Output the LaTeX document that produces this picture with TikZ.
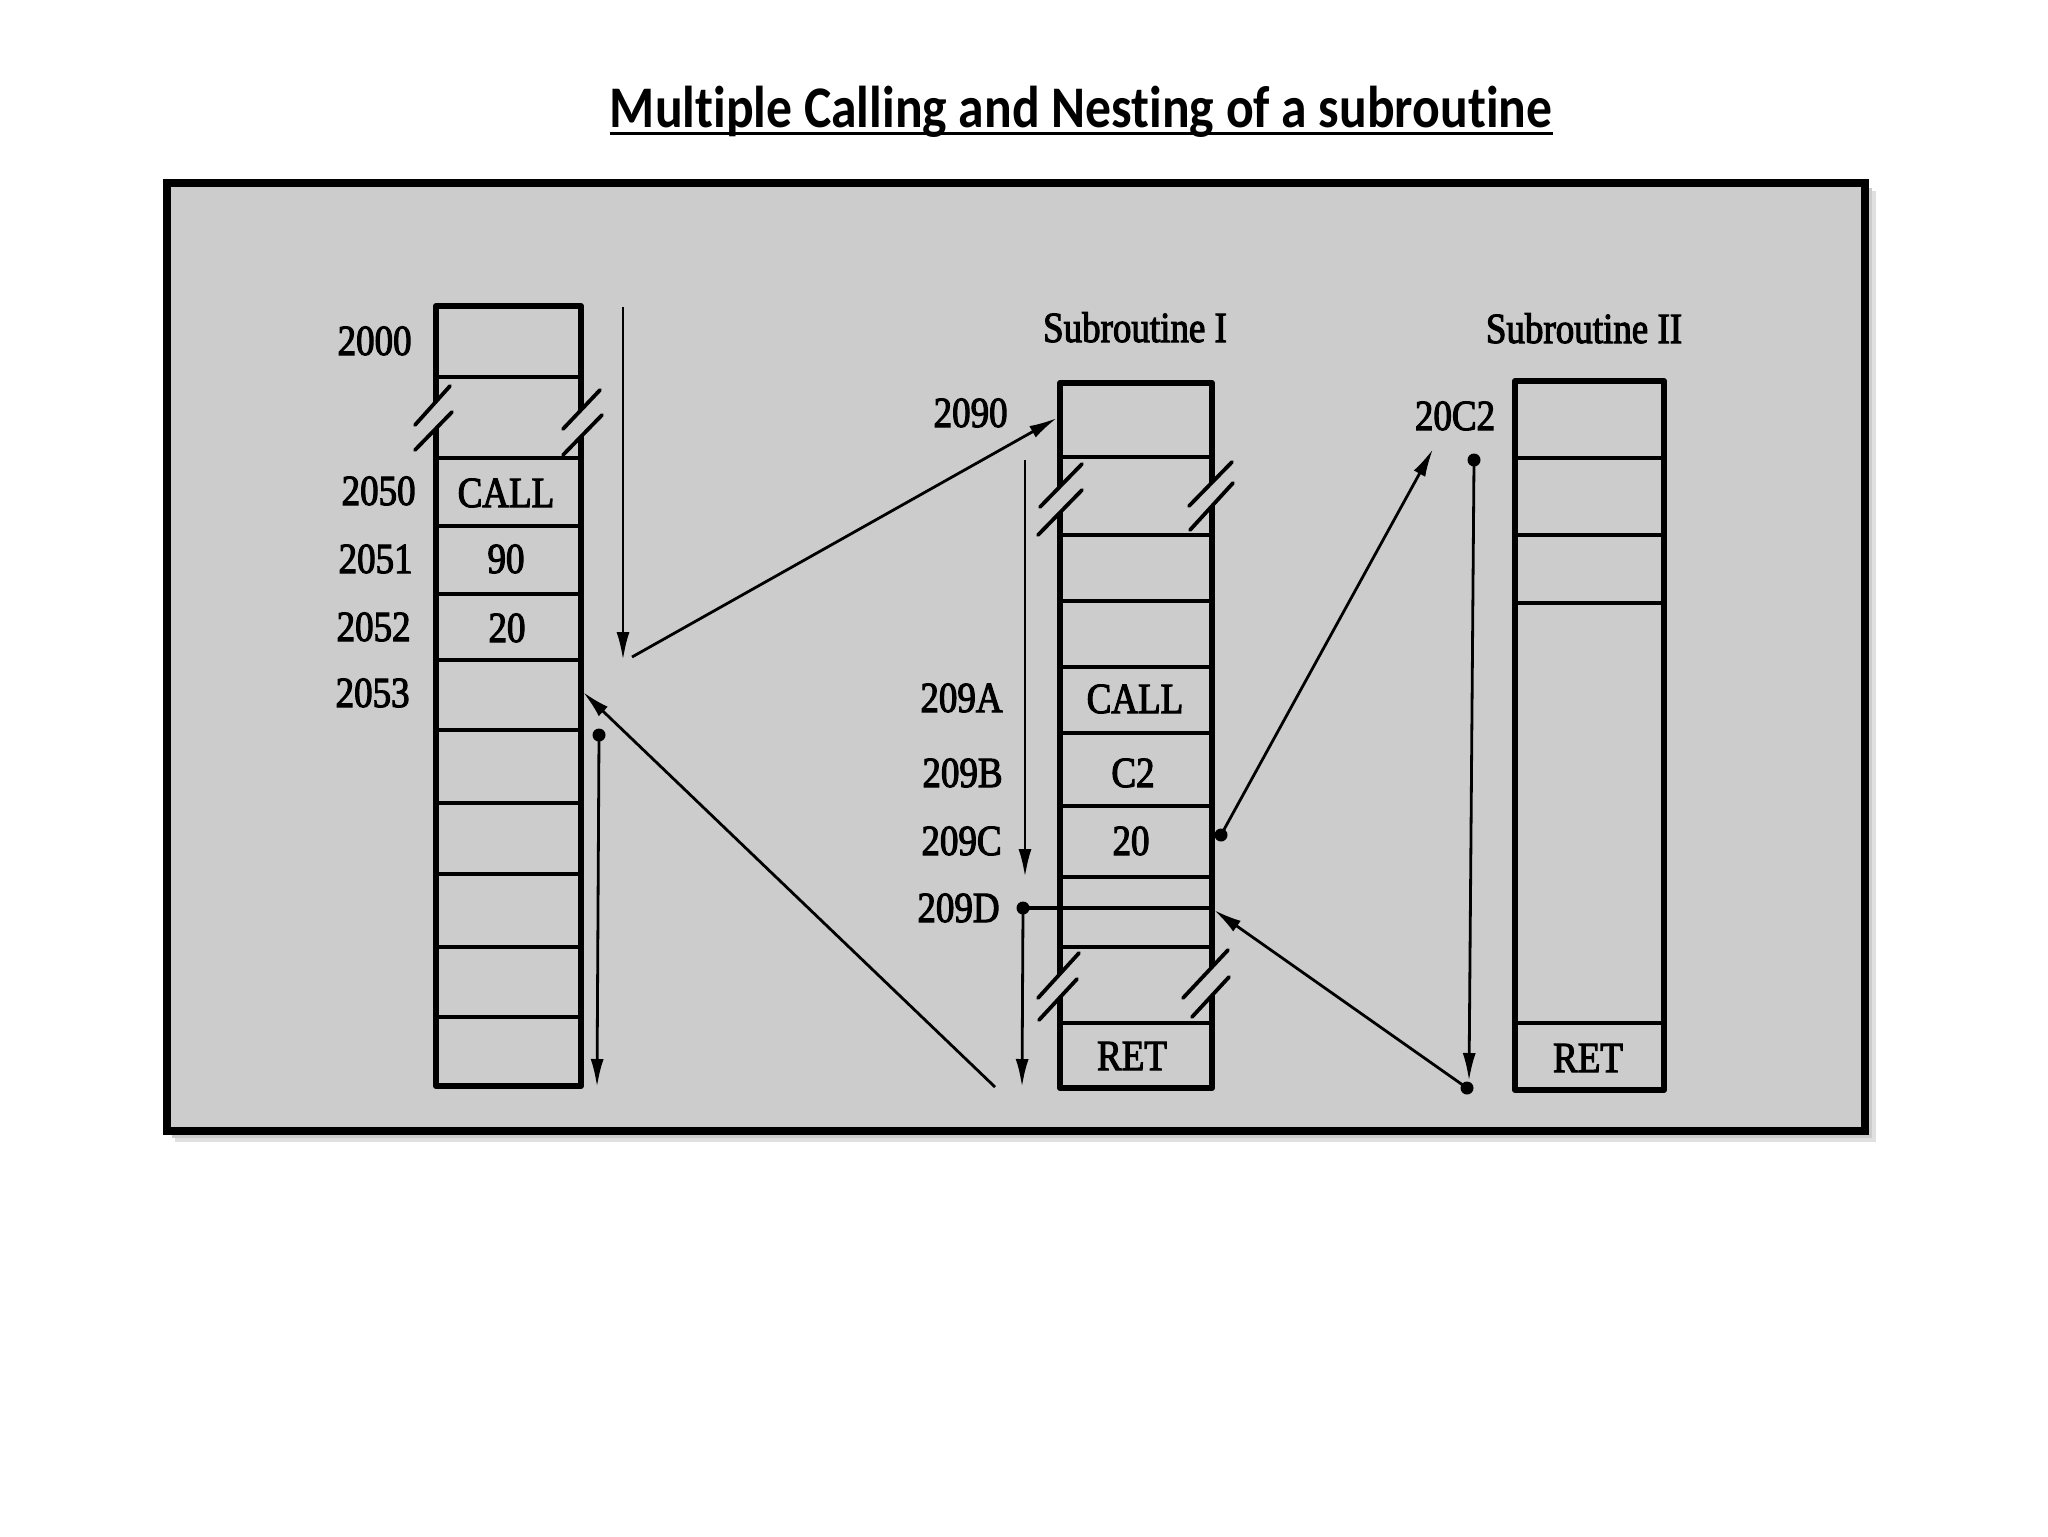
\documentclass[tikz,border=0pt]{standalone}
\usepackage{fontspec}
\usetikzlibrary{arrows.meta,calc}
\newfontfamily\tms{Liberation Serif}[FakeStretch=0.86,FakeBold=2.5]
\newfontfamily\ttl{Carlito}[FakeStretch=0.875,RawFeature=-liga]
\definecolor{panel}{RGB}{204,204,204}
\tikzset{
  boxline/.style={line width=3pt, line join=round},
  cellline/.style={line width=1.7pt},
  flow/.style={line width=1.4pt, -{Latex[length=14pt,width=6.5pt]}},
  lab/.style={font=\tms\fontsize{21.5}{24}\selectfont, inner sep=0pt},
  brkline/.style={line width=1.9pt, line cap=round},
  dotnode/.style={circle, fill=black, inner sep=0pt, minimum size=6.5pt},
}
\newcommand{\brkmark}[4]{%
  \fill[panel] ($(#1)!0.08!(#2)$) -- ($(#2)!0.08!(#1)$) -- ($(#4)!0.08!(#3)$) -- ($(#3)!0.08!(#4)$) -- cycle;
  \draw[brkline] (#1) -- (#2);
  \draw[brkline] (#3) -- (#4);
}
\begin{document}
\begin{tikzpicture}[x=0.5pt,y=-0.5pt]
\useasboundingbox (0,0) rectangle (2048,1536);
\fill[white] (0,0) rectangle (2048,1536);
% title
\node[inner sep=0pt, anchor=base, font=\ttl\bfseries\fontsize{29.5}{32}\selectfont] (title) at (1081,127) {Multiple Calling and Nesting of a subroutine};
\draw[line width=1.6pt] ([yshift=-3.2pt]title.base west) -- ([yshift=-3.2pt]title.base east);
% panel with shadow
\fill[black!12] (175,191) rectangle (1876,1142);
\fill[black!20] (172,188) rectangle (1872,1138);
\fill[panel] (167,183) rectangle (1864.5,1130.5);
\draw[line width=4pt] (167,183) rectangle (1864.5,1130.5);

% ---------- main program column ----------
\draw[boxline] (436,306) rectangle (581,1086);
\foreach \y in {377,458,526,594,660,730,803,874,947,1017}
  \draw[cellline] (436,\y) -- (581,\y);
\coordinate (bA1) at (415,425); \coordinate (bA2) at (450,386);
\coordinate (bB1) at (415,450); \coordinate (bB2) at (452,412);
\brkmark{bA1}{bA2}{bB1}{bB2}
\coordinate (bC1) at (563,429); \coordinate (bC2) at (600,390);
\coordinate (bD1) at (563,455); \coordinate (bD2) at (602,415);
\brkmark{bC1}{bC2}{bD1}{bD2}

\node[lab, anchor=base east] (a2000) at (412,355) {2000};
\node[lab, anchor=base east] (a2050) at (416,505) {2050};
\node[lab, anchor=base east] (a2051) at (413,573) {2051};
\node[lab, anchor=base east] (a2052) at (411,641) {2052};
\node[lab, anchor=base east] (a2053) at (410,707) {2053};
\node[lab, anchor=base] (mcall) at (506,507) {CALL};
\node[lab, anchor=base] (m90) at (506,573) {90};
\node[lab, anchor=base] (m20) at (507,642) {20};

% ---------- subroutine I ----------
\node[lab, anchor=base] (s1title) at (1135,342) {Subroutine I};
\draw[boxline] (1060,383) rectangle (1212,1088);
\foreach \y in {457,535,601,667,733,806,877,947,1023}
  \draw[cellline] (1060,\y) -- (1212,\y);
\coordinate (cA1) at (1040,507); \coordinate (cA2) at (1082,464);
\coordinate (cB1) at (1038,535); \coordinate (cB2) at (1082,490);
\brkmark{cA1}{cA2}{cB1}{cB2}
\coordinate (cC1) at (1189,506); \coordinate (cC2) at (1232,462);
\coordinate (cD1) at (1190,530); \coordinate (cD2) at (1233,483);
\brkmark{cC1}{cC2}{cD1}{cD2}
\coordinate (dA1) at (1038,998); \coordinate (dA2) at (1079,953);
\coordinate (dB1) at (1039,1020); \coordinate (dB2) at (1077,979);
\brkmark{dA1}{dA2}{dB1}{dB2}
\coordinate (dC1) at (1183,998); \coordinate (dC2) at (1228,950);
\coordinate (dD1) at (1192,1017); \coordinate (dD2) at (1229,977);
\brkmark{dC1}{dC2}{dD1}{dD2}

\node[lab, anchor=base east] (a2090) at (1008,427) {2090};
\node[lab, anchor=base east] (a209A) at (1003,712) {209A};
\node[lab, anchor=base east] (a209B) at (1003,787) {209B};
\node[lab, anchor=base east] (a209C) at (1002,855) {209C};
\node[lab, anchor=base east] (a209D) at (1000,922) {209D};
\node[lab, anchor=base] (scall) at (1135,713) {CALL};
\node[lab, anchor=base] (sc2) at (1133,787) {C2};
\node[lab, anchor=base] (s20) at (1131,855) {20};
\node[lab, anchor=base] (sret) at (1132,1070) {RET};

% ---------- subroutine II ----------
\node[lab, anchor=base] (s2title) at (1584,343) {Subroutine II};
\draw[boxline] (1515,381) rectangle (1664,1090);
\foreach \y in {458,535,603,1023}
  \draw[cellline] (1515,\y) -- (1664,\y);
\node[lab, anchor=base] (a20C2) at (1455,430) {20C2};
\node[lab, anchor=base] (tret) at (1588,1072) {RET};

% ---------- flow connectors ----------
\coordinate (p1s) at (623,307);
\coordinate (p1e) at (623,660);
\draw[flow] (p1s) -- (p1e);
\coordinate (callfrom) at (632,657);
\coordinate (s1entry) at (1057,418);
\draw[flow] (callfrom) -- (s1entry);

\coordinate (s1s) at (1025,460);
\coordinate (s1e) at (1025,877);
\draw[flow] (s1s) -- (s1e);

\node[dotnode] (d209C) at (1221,835) {};
\coordinate (s2entry) at (1433,449);
\draw[flow] (d209C.center) -- (s2entry);

\node[dotnode] (s2top) at (1474,460) {};
\coordinate (s2end) at (1469,1081);
\draw[flow] (s2top.center) -- (s2end);
\node[dotnode] (s2bot) at (1467,1088) {};
\coordinate (ret1) at (1214,910);
\draw[flow] (s2bot.center) -- (ret1);

\node[dotnode] (d209D) at (1023,908) {};
\draw[cellline] (d209D.center) -- (1212,908);
\coordinate (s1end) at (1022,1087);
\draw[flow] (d209D.center) -- (s1end);

\coordinate (ret0s) at (995,1087);
\coordinate (ret0) at (583,692);
\draw[flow] (ret0s) -- (ret0);

\node[dotnode] (m2053) at (599,735) {};
\coordinate (mend) at (597,1087);
\draw[flow] (m2053.center) -- (mend);
\end{tikzpicture}
\end{document}
